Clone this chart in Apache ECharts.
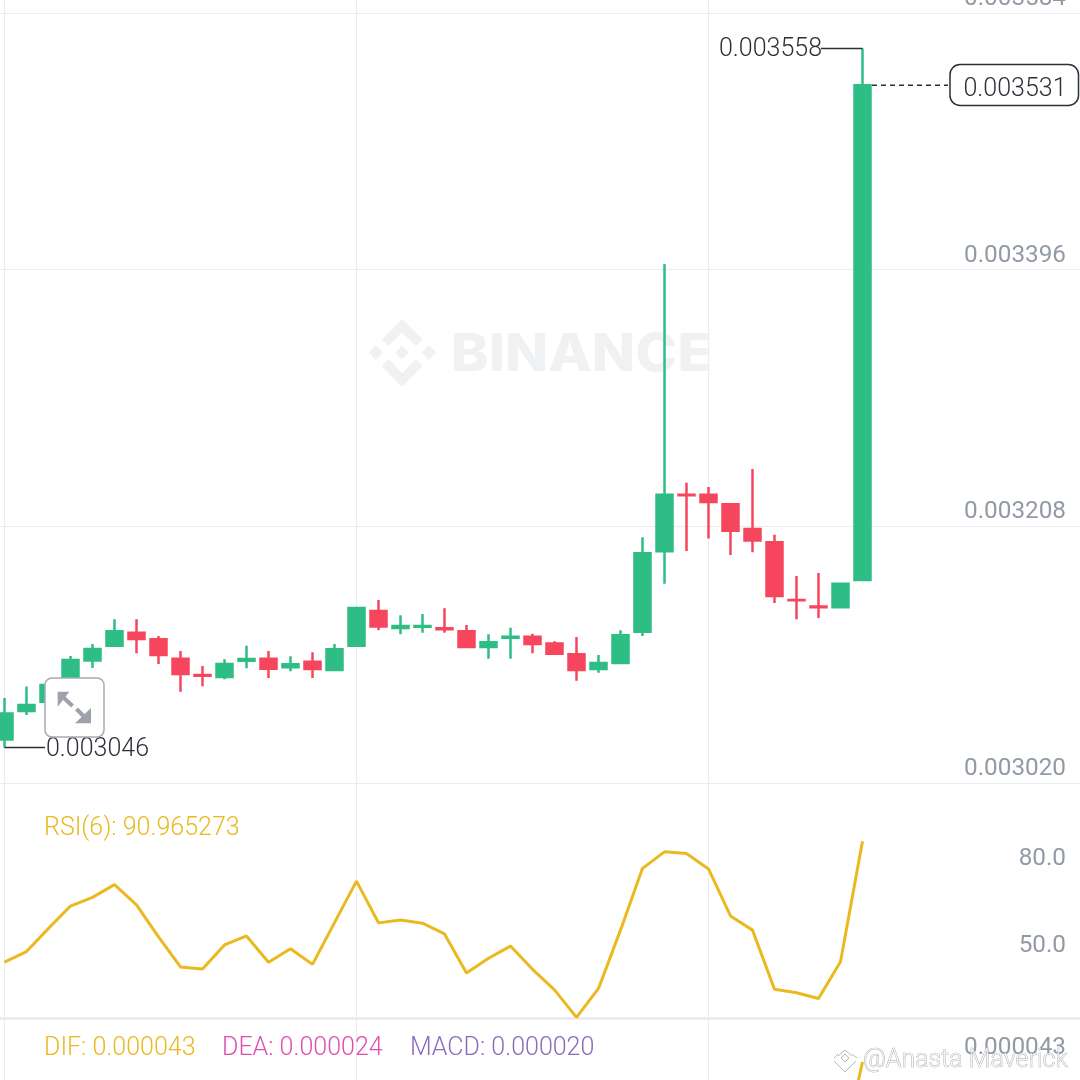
<!DOCTYPE html>
<html>
<head>
    <meta charset="utf-8">
    <title>K线</title>
    <style>
        html, body { margin: 0; padding: 0; background: #fff; }
        #main { width: 1080px; height: 1080px; overflow: hidden; }
    </style>
    <script src="https://cdn.jsdelivr.net/npm/echarts@6/dist/echarts.min.js"></script>
</head>
<body>
<div id="main"></div>
<script type="text/javascript">
    // values
    var openPrices = [0.0030518, 0.0030727, 0.0030795, 0.0030954, 0.0031098, 0.0031205, 0.0031301, 0.0031253, 0.0031111, 0.0030991,
        0.0030976, 0.0031096, 0.0031111, 0.0031047, 0.0031089, 0.0031027, 0.0031205, 0.0031460, 0.0031335, 0.0031345,
        0.0031333, 0.0031312, 0.0031196, 0.0031264, 0.0031272, 0.0031221, 0.0031143, 0.0031035, 0.0031079, 0.0031308,
        0.0031897, 0.0032312, 0.0032312, 0.0032242, 0.0032061, 0.0031963, 0.0031541, 0.0031492, 0.0031487, 0.0031687];
    var closePrices = [0.0030709, 0.0030772, 0.0030918, 0.0031101, 0.0031182, 0.0031312, 0.0031254, 0.0031137, 0.0030998, 0.0030986,
        0.0031072, 0.0031109, 0.0031037, 0.0031070, 0.0031035, 0.0031180, 0.0031482, 0.0031347, 0.0031350, 0.0031350,
        0.0031326, 0.0031196, 0.0031231, 0.0031272, 0.0031218, 0.0031147, 0.0031027, 0.0031079, 0.0031282, 0.0031883,
        0.0032312, 0.0032307, 0.0032258, 0.0032048, 0.0031977, 0.0031569, 0.0031538, 0.0031487, 0.0031660, 0.0035310];
    var lowPrices = [0.0030460, 0.0030698, 0.0030779, 0.0030940, 0.0031042, 0.0031198, 0.0031150, 0.0031072, 0.0030869, 0.0030908,
        0.0030960, 0.0031040, 0.0030969, 0.0031018, 0.0030969, 0.0031020, 0.0031198, 0.0031319, 0.0031289, 0.0031301,
        0.0031301, 0.0031189, 0.0031110, 0.0031110, 0.0031150, 0.0031140, 0.0030949, 0.0031008, 0.0031072, 0.0031277,
        0.0031660, 0.0031899, 0.0031990, 0.0031870, 0.0031890, 0.0031519, 0.0031399, 0.0031409, 0.0031480, 0.0031680];
    var highPrices = [0.0030823, 0.0030907, 0.0030947, 0.0031130, 0.0031218, 0.0031399, 0.0031399, 0.0031277, 0.0031167, 0.0031057,
        0.0031106, 0.0031206, 0.0031167, 0.0031128, 0.0031157, 0.0031218, 0.0031489, 0.0031540, 0.0031428, 0.0031438,
        0.0031480, 0.0031357, 0.0031289, 0.0031338, 0.0031294, 0.0031238, 0.0031269, 0.0031138, 0.0031319, 0.0032000,
        0.0034002, 0.0032400, 0.0032368, 0.0032249, 0.0032500, 0.0032019, 0.0031716, 0.0031738, 0.0031667, 0.0035580];
    var rsiValues = [49.3, 52.9, 60.9, 68.6, 71.6, 76.0, 69.0, 58.0, 47.6, 46.9,
        55.2, 58.3, 49.2, 53.9, 48.5, 62.9, 77.2, 62.8, 63.8, 62.7,
        59.0, 45.5, 50.6, 54.8, 46.8, 39.7, 30.2, 40.2, 60.3, 81.6,
        87.3, 86.7, 81.4, 65.2, 60.3, 39.9, 38.7, 36.7, 49.4, 90.965273];
    // only the last two DIF points are inside the picture
    var difIndexes = [38, 39];
    var difValues = [0.0000232, 0.000043];

    var priceTicks = [0.003020, 0.003208, 0.003396, 0.003584];
    var rsiTicks = [50, 80];
    var macdTicks = [0.000043];

    var lowIndex = 0, lowPrice = 0.003046;
    var highIndex = 39, highPrice = 0.003558;
    var lastIndex = 39, lastPrice = 0.003531;
    var rsiText = 'RSI(6): 90.965273';
    var difText = 'DIF: 0.000043', deaText = 'DEA: 0.000024', macdText = 'MACD: 0.000020';

    var UP = '#2EBD85', DOWN = '#F6465D', GRIDLINE = '#EAECEF', AXISTEXT = '#929AA5', DARK = '#2B2F36';
    var YELLOW = '#EAB920', PINK = '#DE4FAE', PURPLE = '#8A6BBE';
    var FONT = 'Roboto, sans-serif';

    var slots = [];
    for (var i = 0; i < 50; i++) slots.push(String(i));

    var candles = [];
    for (var i = 0; i < openPrices.length; i++) {
        candles.push([openPrices[i], closePrices[i], lowPrices[i], highPrices[i]]);
    }
    var difLine = slots.map(function () { return null; });
    for (var i = 0; i < difIndexes.length; i++) difLine[difIndexes[i]] = difValues[i];

    function xCat(gridIndex) {
        return {
            type: 'category', gridIndex: gridIndex, data: slots, boundaryGap: true,
            axisLabel: {show: false}, axisTick: {show: false},
            splitLine: {show: false},
            axisLine: gridIndex === 1 ? {show: true, lineStyle: {color: '#E8E9F0', width: 2.5}} : {show: false}
        };
    }
    function yAxisOf(gridIndex, min, max, ticks, digits, showSplit) {
        return {
            type: 'value', gridIndex: gridIndex, position: 'right', min: min, max: max, scale: true,
            axisLine: {show: false},
            axisTick: {show: false, customValues: ticks},
            splitLine: {show: showSplit, lineStyle: {color: GRIDLINE, width: 1}},
            axisLabel: {
                show: true, inside: true, margin: 27.5, customValues: ticks,
                align: 'right', verticalAlign: 'bottom', padding: [0, 0, 2, 0],
                color: AXISTEXT, fontFamily: FONT, fontSize: 24.3,
                formatter: function (v) { return v.toFixed(digits); },
                hideOverlap: false
            }
        };
    }

    var chart = echarts.init(document.getElementById('main'));
    chart.setOption({
        animation: false,
        backgroundColor: '#fff',
        grid: [
            {left: -6.5, width: 1100, top: 13, height: 770, outerBoundsMode: 'none'},
            {left: -6.5, width: 1100, top: 786, height: 232, outerBoundsMode: 'none'},
            {left: -6.5, width: 1100, top: 1062, height: 215, outerBoundsMode: 'none'},
            {left: 4.5, width: 1056, top: 0, height: 1080, outerBoundsMode: 'none'}   // only for the vertical lines
        ],
        xAxis: [
            xCat(0), xCat(1), xCat(2),
            {
                type: 'value', gridIndex: 3, min: 0, max: 48, interval: 16,
                axisLabel: {show: false}, axisTick: {show: false}, axisLine: {show: false},
                splitLine: {show: true, showMaxLine: false, lineStyle: {color: GRIDLINE, width: 1}}
            }
        ],
        yAxis: [
            yAxisOf(0, 0.003020, 0.003584, priceTicks, 6, true),
            yAxisOf(1, 30, 110, rsiTicks, 1, false),
            yAxisOf(2, 0, 0.000043, macdTicks, 6, false),
            {type: 'value', gridIndex: 3, min: 0, max: 1, show: false}
        ],
        series: [
            {
                name: 'K', type: 'candlestick', xAxisIndex: 0, yAxisIndex: 0, data: candles,
                barWidth: 16.5,
                itemStyle: {color: UP, color0: DOWN, borderColor: UP, borderColor0: DOWN, borderWidth: 2.5}
            },
            {
                name: 'RSI', type: 'line', xAxisIndex: 1, yAxisIndex: 1, data: rsiValues,
                showSymbol: false, smooth: false, lineStyle: {color: YELLOW, width: 3}
            },
            {
                name: 'DIF', type: 'line', xAxisIndex: 2, yAxisIndex: 2, data: difLine,
                showSymbol: false, lineStyle: {color: YELLOW, width: 3}
            }
        ]
    });

    function px(index, value) {
        return chart.convertToPixel({xAxisIndex: 0, yAxisIndex: 0}, [index, value]);
    }
    function label(text, x, y, color, z, align) {
        return {
            type: 'text', z: z, silent: true,
            style: {text: text, x: x, y: y, fill: color, font: '300 25px ' + FONT, align: align || 'left', verticalAlign: 'middle'}
        };
    }
    function poly(points, color, z) {
        return {type: 'polygon', z: z, silent: true, shape: {points: points}, style: {fill: color}};
    }
    function stroke(points, color, width, z, dash) {
        return {
            type: 'polyline', z: z, silent: true, shape: {points: points},
            style: {stroke: color, lineWidth: width, fill: null, lineDash: dash || null}
        };
    }

    var lowPt = px(lowIndex, lowPrice), highPt = px(highIndex, highPrice), lastPt = px(lastIndex, lastPrice);
    var MARK = '#EFF1F2', ICON = '#9CA1AB', WM = '#B5B8BD';

    var marks = [
        // BINANCE watermark under the candles
        poly([[402, 319], [422.7, 339.5], [416, 346], [402, 332.3], [388.7, 346], [381.7, 339.5]], MARK, 0),
        poly([[402, 386.7], [422.7, 366], [416, 359.3], [402, 373.3], [388.7, 359.3], [381.7, 366]], MARK, 0),
        poly([[375.7, 345], [383, 352.5], [375.7, 360], [368.5, 352.5]], MARK, 0),
        poly([[429, 345], [436.3, 352.5], [429, 360], [421.7, 352.5]], MARK, 0),
        poly([[402, 345.5], [409, 352.5], [402, 359.5], [395, 352.5]], MARK, 0),
        {
            type: 'text', z: 0, silent: true, scaleX: 1.09, originX: 451, originY: 355,
            style: {text: 'BINANCE', x: 451, y: 355, fill: MARK, font: '800 52px Inter, sans-serif', align: 'left', verticalAlign: 'middle'}
        },

        // high, low and last price
        stroke([[highPt[0], highPt[1]], [821, highPt[1]]], DARK, 1.5, 10),
        label(highPrice.toFixed(6), 719, highPt[1] + 1, DARK, 10),
        stroke([[lowPt[0], lowPt[1]], [45, lowPt[1]]], DARK, 1.5, 10),
        label(lowPrice.toFixed(6), 46, lowPt[1] + 2, DARK, 10),
        stroke([[872, lastPt[1]], [948, lastPt[1]]], DARK, 1.5, 10, [5, 4]),
        {
            type: 'rect', z: 10, silent: true, shape: {x: 950, y: 64.5, width: 128.5, height: 41, r: 10},
            style: {fill: '#fff', stroke: DARK, lineWidth: 1.5}
        },
        label(lastPrice.toFixed(6), 1015, lastPt[1] + 4, DARK, 11, 'center'),

        // expand button
        {
            type: 'rect', z: 12, silent: true, shape: {x: 45, y: 678, width: 59, height: 59, r: 7},
            style: {fill: '#fff', stroke: '#A6ABB3', lineWidth: 1.5}
        },
        poly([[57.7, 691.7], [69.3, 691.7], [57.7, 706.7]], ICON, 13),
        poly([[91, 723.3], [75, 723.3], [91, 708]], ICON, 13),
        stroke([[63, 697], [72.5, 706]], ICON, 4, 13),
        stroke([[76.5, 709], [85.5, 718]], ICON, 4, 13),

        // indicator texts
        label(rsiText, 44, 829, YELLOW, 10),
        label(difText, 44, 1049, YELLOW, 10),
        label(deaText, 222, 1049, PINK, 10),
        label(macdText, 410, 1049, PURPLE, 10),

        // repost mark in the corner
        stroke([[838, 1056], [845, 1050], [852, 1056]], WM, 1, 20),
        stroke([[834, 1058], [838, 1054]], WM, 1, 20),
        stroke([[852, 1054], [857, 1058]], WM, 1, 20),
        stroke([[841, 1058], [845, 1054], [849, 1058], [845, 1062], [841, 1058]], WM, 1, 20),
        stroke([[834, 1061], [845, 1072], [856, 1061]], WM, 1, 20),
        {
            type: 'text', z: 20, silent: true,
            style: {
                text: '@Anasta Maverick', x: 863, y: 1061, fill: 'rgba(255,255,255,0.75)',
                stroke: '#9EA1A6', lineWidth: 0.7, font: '300 25px ' + FONT, align: 'left', verticalAlign: 'middle'
            }
        }
    ];
    chart.setOption({graphic: {elements: marks}});
</script>
</body>
</html>
